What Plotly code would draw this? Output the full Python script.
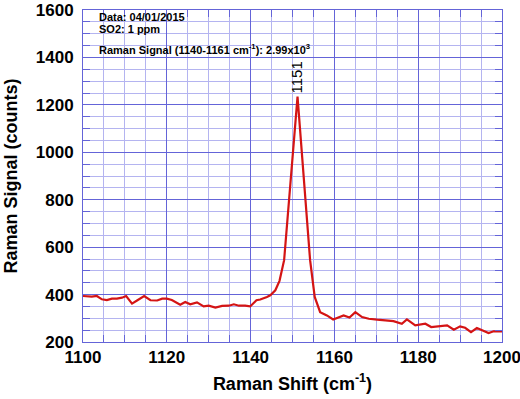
import plotly.graph_objects as go

shift = [1100.0, 1101.1, 1102.1, 1103.3, 1104.5, 1105.7, 1106.9, 1108.1, 1109.3, 1110.3,
         1111.7, 1112.9, 1114.6, 1116.1, 1117.7, 1118.9, 1120.0, 1121.2, 1123.2, 1124.4,
         1125.6, 1127.2, 1128.8, 1130.0, 1131.6, 1133.2, 1134.8, 1136.0, 1137.2, 1138.7,
         1139.9, 1141.4, 1142.3, 1143.9, 1144.7, 1145.9, 1146.9, 1148.0, 1151.2, 1154.2,
         1155.3, 1156.6, 1158.2, 1159.7, 1161.0, 1162.2, 1163.6, 1165.0, 1166.6, 1168.2,
         1170.2, 1172.6, 1174.1, 1176.1, 1177.3, 1179.3, 1181.7, 1183.1, 1185.3, 1186.9,
         1188.5, 1190.0, 1191.2, 1192.6, 1194.0, 1195.2, 1196.8, 1198.0, 1200.0]
signal = [394, 393, 391, 394, 380, 377, 383, 383, 387, 394,
          362, 375, 394, 376, 375, 383, 383, 377, 357, 369,
          359, 367, 350, 353, 345, 352, 353, 359, 353, 353,
          350, 376, 379, 390, 397, 418, 458, 545, 1235, 545,
          390, 326, 312, 295, 305, 312, 303, 326, 305, 298,
          294, 291, 288, 277, 295, 270, 277, 263, 266, 270,
          252, 266, 260, 242, 259, 249, 238, 245, 245]

peak_x = 1151
peak_label = "1151"
info_lines = ["Data: 04/01/2015", "SO2: 1 ppm",
              "Raman Signal (1140-1161 cm<sup>-1</sup>): 2.99x10<sup>3</sup>"]
info_y = [1572, 1522, 1437]

major = "#6464d8"
minor = "#b4b4f0"
font = "Liberation Sans, Arial, Helvetica, sans-serif"

fig = go.Figure()
fig.add_trace(go.Scatter(x=shift, y=signal, mode="lines",
                         line=dict(color="#d41414", width=2.2), showlegend=False))

for txt, yy in zip(info_lines, info_y):
    fig.add_annotation(x=1103.4, y=yy, xref="x", yref="y", text=txt, showarrow=False,
                       xanchor="left", yanchor="middle",
                       font=dict(family=font, size=11, color="black", weight="bold"))

fig.add_annotation(x=peak_x, y=1314, xref="x", yref="y", text=peak_label, showarrow=False,
                   textangle=-90, font=dict(family=font, size=15, color="black"))

axis_common = dict(showline=True, linecolor=major, linewidth=1, mirror="allticks",
                   ticks="inside", ticklen=7, tickcolor=major, showgrid=True,
                   gridcolor=major, gridwidth=1, zeroline=False, automargin=False,
                   ticklabeloverflow="allow",
                   tickfont=dict(family=font, size=17, color="black", weight="bold"))

fig.update_xaxes(range=[1100, 1200], dtick=20, tick0=1100,
                 minor=dict(dtick=5, showgrid=True, gridcolor=minor, ticks="inside",
                            ticklen=7, tickcolor=major),
                 title=dict(text="Raman Shift (cm<sup>-1</sup>)", standoff=10,
                            font=dict(family=font, size=18, color="black", weight="bold")),
                 **axis_common)
fig.update_yaxes(range=[200, 1600], dtick=200, tick0=200, ticklabelstandoff=5,
                 minor=dict(dtick=50, showgrid=True, gridcolor=minor, ticks="inside",
                            ticklen=7, tickcolor=major),
                 title=dict(text="Raman Signal (counts)", standoff=13,
                            font=dict(family=font, size=18, color="black", weight="bold")),
                 **axis_common)

fig.update_layout(width=520, height=399, margin=dict(l=83, r=18, t=10, b=57),
                  plot_bgcolor="white", paper_bgcolor="white",
                  font=dict(family=font))
fig.write_html("out.html", config={"displayModeBar": False},
               post_script="document.body.style.margin='0';document.body.style.overflow='hidden';")
